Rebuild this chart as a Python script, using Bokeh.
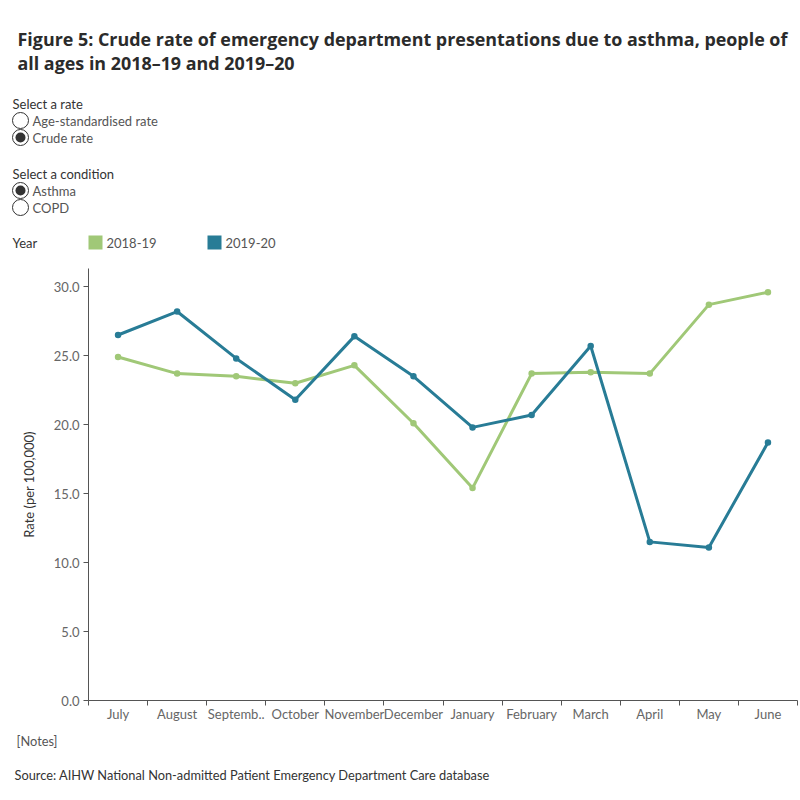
from bokeh.plotting import figure
from bokeh.layouts import column
from bokeh.models import (ColumnDataSource, Range1d, FixedTicker,
                          NumeralTickFormatter)
from bokeh.core.properties import value
from bokeh.embed import file_html
from bokeh.resources import INLINE

# ---- data -------------------------------------------------------------
months = ["July", "August", "September", "October", "November", "December",
          "January", "February", "March", "April", "May", "June"]
month_labels = ["July", "August", "Septemb..", "October", "November", "December",
                "January", "February", "March", "April", "May", "June"]
years = ["2018-19", "2019-20"]
rate_2018_19 = [24.9, 23.7, 23.5, 23.0, 24.3, 20.1, 15.4, 23.7, 23.8, 23.7, 28.7, 29.6]
rate_2019_20 = [26.5, 28.2, 24.8, 21.8, 26.4, 23.5, 19.8, 20.7, 25.7, 11.5, 11.1, 18.7]
y_ticks = [0, 5, 10, 15, 20, 25, 30]

colors = {"2018-19": "#a0c877", "2019-20": "#287c96"}

TITLE = ["Figure 5: Crude rate of emergency department presentations due to asthma, people of",
         "all ages in 2018\u201319 and 2019\u201320"]
FONT = "Lato"
TITLE_FONT = "Open Sans"
DARK = "#333333"
GREY = "#666666"
SIZE = "13px"

W = 800
HEAD_H = 262
CHART_H = 470
FOOT_H = 68


def blank(height):
    f = figure(width=W, height=height, x_range=Range1d(0, W), y_range=Range1d(height, 0),
               output_backend="svg", toolbar_location=None, min_border=0,
               frame_align=False)
    f.axis.visible = False
    f.grid.visible = False
    f.outline_line_color = None
    return f


# ---- header: title, selectors and legend -------------------------------
head = blank(HEAD_H)
head.text(x=[17, 17], y=[38, 62], text=TITLE, text_font=value(TITLE_FONT),
          text_font_style="bold", text_font_size="17.9px", text_color="#2b2b2b",
          text_baseline="middle")

head.text(x=[12, 12], y=[103, 173], text=["Select a rate", "Select a condition"],
          text_font=value(FONT), text_font_size=SIZE, text_color=DARK,
          text_baseline="middle")
opts = ColumnDataSource(dict(
    y=[120, 137, 190, 207],
    label=["Age-standardised rate", "Crude rate", "Asthma", "COPD"],
    selected=[False, True, True, False],
))
head.scatter(x=20, y="y", source=opts, marker="circle", size=16,
             fill_color="white", line_color=DARK, line_width=1)
sel_y = [y for y, s in zip(opts.data["y"], opts.data["selected"]) if s]
head.scatter(x=[20] * len(sel_y), y=sel_y, marker="circle", size=10,
             fill_color=DARK, line_color=None)
head.text(x=32, y="y", text="label", source=opts, text_font=value(FONT),
          text_font_size=SIZE, text_color="#555555", text_baseline="middle")

head.text(x=[12], y=[242], text=["Year"], text_font=value(FONT),
          text_font_size=SIZE, text_color=DARK, text_baseline="middle")
legend_x = [88, 207]
head.scatter(x=[lx + 7 for lx in legend_x], y=[242, 242], marker="square", size=14,
             fill_color=[colors[y] for y in years], line_color=None)
head.text(x=[lx + 18 for lx in legend_x], y=[242, 242], text=years,
          text_font=value(FONT), text_font_size=SIZE, text_color="#555555",
          text_baseline="middle")

# ---- chart ---------------------------------------------------------------
xs = list(range(1, len(months) + 1))
p = figure(width=W, height=CHART_H, x_range=Range1d(0.5, len(months) + 0.5),
           y_range=Range1d(0, 31.32), output_backend="svg", toolbar_location=None,
           min_border_left=88, min_border_right=3, min_border_top=6,
           min_border_bottom=32, frame_align=False)
p.grid.visible = False
p.outline_line_color = None
p.background_fill_color = "white"

for yr, vals in zip(years, [rate_2018_19, rate_2019_20]):
    src = ColumnDataSource(dict(x=xs, y=vals, month=months))
    p.line("x", "y", source=src, line_color=colors[yr], line_width=3)
    p.scatter("x", "y", source=src, marker="circle", size=6.5,
              fill_color=colors[yr], line_color=None)

# x axis: month names centred in their bands, tick marks on band edges
p.xaxis.ticker = FixedTicker(ticks=xs, minor_ticks=[x + 0.5 for x in range(0, len(months) + 1)])
p.xaxis.major_label_overrides = {x: lab for x, lab in zip(xs, month_labels)}
p.xaxis.major_tick_out = 0
p.xaxis.major_tick_in = 0
p.xaxis.minor_tick_out = 5
p.xaxis.minor_tick_in = 0
p.xaxis.major_label_standoff = 0

p.yaxis.ticker = FixedTicker(ticks=y_ticks, minor_ticks=[])
p.yaxis.formatter = NumeralTickFormatter(format="0.0")
p.yaxis.major_tick_out = 5
p.yaxis.major_tick_in = 0
p.yaxis.major_label_standoff = 4
p.yaxis.axis_label = "Rate (per 100,000)"
p.yaxis.axis_label_standoff = 14
p.yaxis.axis_label_text_font_style = "normal"
p.yaxis.axis_label_text_font_size = SIZE
p.yaxis.axis_label_text_font = FONT
p.yaxis.axis_label_text_color = DARK

for ax in (p.xaxis, p.yaxis):
    ax.axis_line_color = "#555555"
    ax.major_tick_line_color = "#555555"
    ax.minor_tick_line_color = "#555555"
    ax.major_label_text_font = FONT
    ax.major_label_text_font_size = SIZE
    ax.major_label_text_color = GREY

# ---- footer ----------------------------------------------------------------
foot = blank(FOOT_H)
foot.text(x=[16, 14], y=[8, 42],
          text=["[Notes]", "Source: AIHW National Non-admitted Patient Emergency Department Care database"],
          text_font=value(FONT), text_font_size="12.8px", text_color=["#555555", DARK],
          text_baseline="middle")

layout = column(head, p, foot, spacing=0)
open("out.html", "w").write(file_html(layout, INLINE))
